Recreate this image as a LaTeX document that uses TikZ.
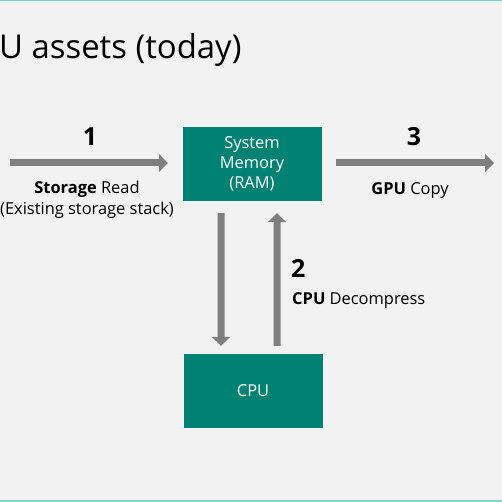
\documentclass[tikz,border=0pt]{standalone}
\usepackage{fontspec}
\setmainfont{Open Sans}
\usetikzlibrary{arrows.meta,calc}

\definecolor{slidebg}{HTML}{F2F2F2}
\definecolor{boxteal}{HTML}{008272}
\definecolor{rule}{HTML}{7FD1CA}
\definecolor{arrowgray}{HTML}{7F7F7F}

\tikzset{
	unit/.style={draw=boxteal, fill=boxteal, text=white, minimum width=138bp, minimum height=73bp, align=center, font=\fontsize{16.5}{20}\selectfont, inner sep=0pt},
	bigarrow/.style={draw=arrowgray, line width=7bp, -{Triangle[length=9bp, width=18bp]}},
	stepnum/.style={font=\fontsize{25}{28}\selectfont\bfseries},
	steptext/.style={font=\fontsize{16.5}{21}\selectfont, align=center, inner sep=0pt}
}

\begin{document}
\begin{tikzpicture}[x=1bp, y=-1bp]
		\fill[slidebg] (0,0) rectangle (502,502);
		\useasboundingbox (0,0) rectangle (502,502);
		\draw[rule, line width=2bp] (0,0.5) -- (502,0.5);
		\draw[rule, line width=2bp] (0,501) -- (502,501);
		\node[anchor=base west, inner sep=0pt, font=\fontsize{33}{38}\selectfont] (title) at (-1,59) {U assets (today)};
		% boxes
		\node[unit] (mem) at (252,163.5) {System\\Memory\\(RAM)};
		\node[unit] (cpu) at (253,390.5) {CPU};
		% step 1
		\coordinate (src) at (10,163);
		\draw[bigarrow, shorten >=15bp] (src) -- (src -| mem.west);
		\node[stepnum] (one) at (90,137) {1};
		\node[steptext] (read) at (87,200) {\textbf{Storage} Read\\(Existing storage stack)};
		% step 2
		\draw[bigarrow, shorten <=13bp, shorten >=8bp] ([xshift=-31bp]mem.south) -- ([xshift=-32bp]cpu.north);
		\draw[bigarrow, shorten <=8bp, shorten >=13bp] ([xshift=24bp]cpu.north) -- ([xshift=25bp]mem.south);
		\node[stepnum, anchor=west, inner sep=0pt] (two) at (291,268) {2};
		\node[steptext, anchor=west] (decomp) at (292,301) {\textbf{CPU} Decompress};
		% step 3
		\coordinate (dst) at (494,163);
		\draw[bigarrow, shorten <=15bp] (mem.east |- dst) -- (dst);
		\node[stepnum] (three) at (414,137) {3};
		\node[steptext] (copy) at (410,191) {\textbf{GPU} Copy};
	\end{tikzpicture}
\end{document}
